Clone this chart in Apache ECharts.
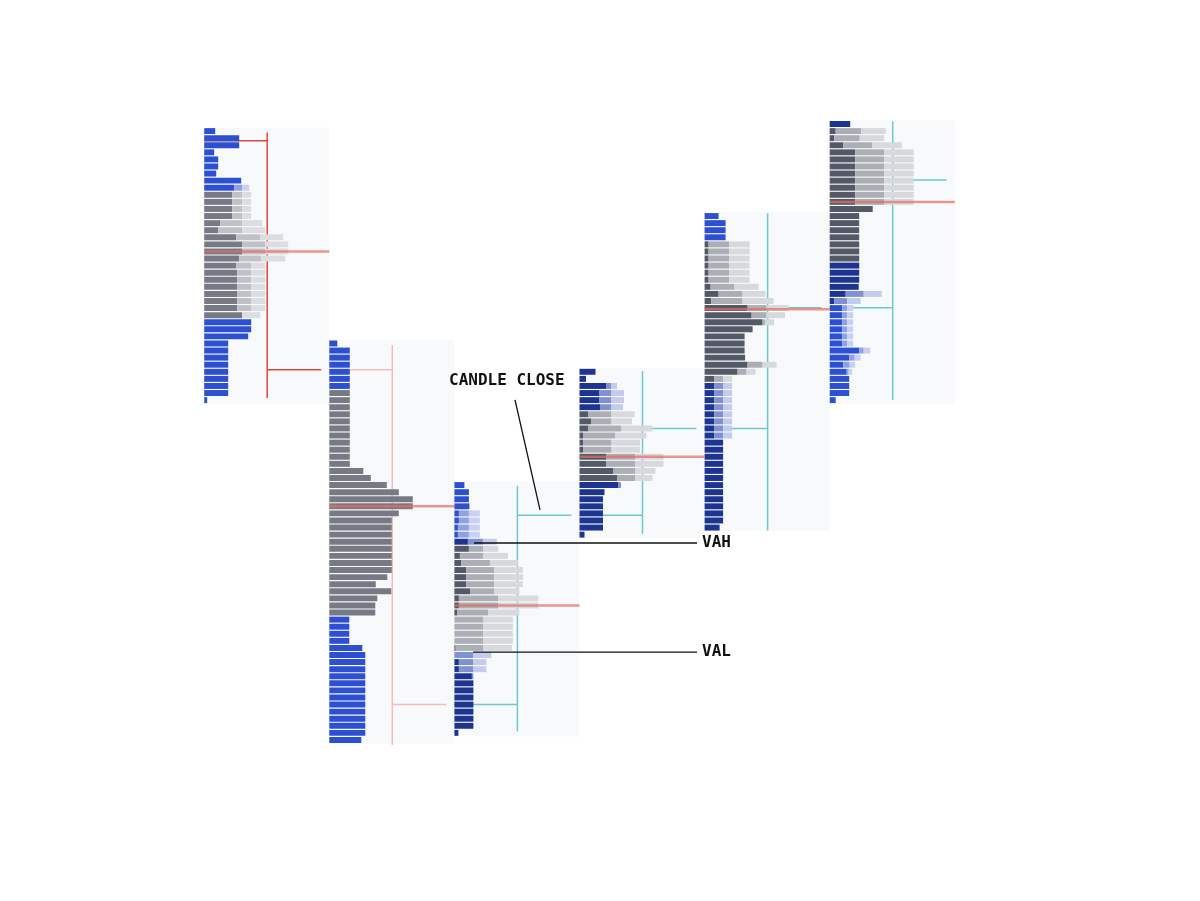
<!DOCTYPE html>
<html><head><meta charset="utf-8">
<script src="https://cdn.jsdelivr.net/npm/echarts@6/dist/echarts.min.js"></script>
<style>html,body{margin:0;padding:0;background:#fff}#c{width:1200px;height:901px}</style>
</head><body><div id="c"></div>
<script>
// Price levels are row indices (0 = highest level, growing downward).
// Each profile row: [darkEnd, midEnd, lightEnd, kind]  (kind: b=blue, n=navy, g=gray, d=dark gray)
const p1Top = 1;
const p1Rows = [
  [11,0,0,'b'],[35,0,0,'b'],[35,0,0,'b'],[10,0,0,'b'],[14,0,0,'b'],[14,0,0,'b'],[12,0,0,'b'],[37,0,0,'b'],[30,38,45,'b'],
  [28,38,47,'g'],[28,38,47,'g'],[28,38,47,'g'],[28,38,47,'g'],[16,38,58,'g'],[14,38,61,'g'],[32,56,79,'g'],[38,61,84,'g'],
  [38,61,84,'g'],[35,57,81,'g'],[32,47,61,'g'],[33,47,61,'g'],[33,47,61,'g'],[33,47,61,'g'],[33,47,61,'g'],[33,47,61,'g'],
  [33,47,61,'g'],[38,38,56,'g'],
  [47,0,0,'b'],[47,0,0,'b'],[44,0,0,'b'],[24,0,0,'b'],[24,0,0,'b'],[24,0,0,'b'],[24,0,0,'b'],[24,0,0,'b'],[24,0,0,'b'],
  [24,0,0,'b'],[24,0,0,'b'],[3,0,0,'b']
];
const p2Top = 31;
const p2Rows = [
  [8,0,0,'b'],[20.5,0,0,'b'],[20.5,0,0,'b'],[20.5,0,0,'b'],[20.5,0,0,'b'],[20.5,0,0,'b'],[20.5,0,0,'b'],
  [20.5,0,0,'g'],[20.5,0,0,'g'],[20.5,0,0,'g'],[20.5,0,0,'g'],[20.5,0,0,'g'],[20.5,0,0,'g'],[20.5,0,0,'g'],[20.5,0,0,'g'],
  [20.5,0,0,'g'],[20.5,0,0,'g'],[20.5,0,0,'g'],[34,0,0,'g'],[41.5,0,0,'g'],[57.5,0,0,'g'],[69.5,0,0,'g'],[83.5,0,0,'g'],
  [83.5,0,0,'g'],[69.5,0,0,'g'],[62.5,0,0,'g'],[62.5,0,0,'g'],[62.5,0,0,'g'],[62.5,0,0,'g'],[62.5,0,0,'g'],[62.5,0,0,'g'],
  [62.5,0,0,'g'],[62.5,0,0,'g'],[58,0,0,'g'],[46.5,0,0,'g'],[62,0,0,'g'],[48,0,0,'g'],[46,0,0,'g'],[46,0,0,'g'],
  [20,0,0,'b'],[20,0,0,'b'],[20,0,0,'b'],[20,0,0,'b'],[33,0,0,'b'],[36,0,0,'b'],[36,0,0,'b'],[36,0,0,'b'],[36,0,0,'b'],
  [36,0,0,'b'],[36,0,0,'b'],[36,0,0,'b'],[36,0,0,'b'],[36,0,0,'b'],[36,0,0,'b'],[36,0,0,'b'],[36,0,0,'b'],[32,0,0,'b']
];
const p3Top = 51;
const p3Rows = [
  [10,0,0,'b'],[14.5,0,0,'b'],[14.5,0,0,'b'],[15,0,0,'b'],[4.5,14.5,25.5,'b'],[4.5,14.5,25.5,'b'],[3.5,14.5,25.5,'b'],
  [3.5,14.5,25.5,'b'],[13.5,28.5,42.5,'n'],[14.5,29,44,'d'],[5.5,29,53.5,'d'],[7,35.5,63.5,'d'],[12,40,68.5,'d'],
  [12,40,68.5,'d'],[12,40,68.5,'d'],[16,40,65,'d'],[4.5,44,84,'d'],[4.5,44,84,'d'],[3,34,65,'d'],[0,29,58.5,'d'],
  [0,29,58.5,'d'],[0,29,58.5,'d'],[0,29,58.5,'d'],[1.3,29,57.5,'d'],[0,19,37,'n'],[4.5,19,32,'n'],[4.5,19,32,'n'],
  [17.5,19,19,'n'],[19,0,0,'n'],[19,0,0,'n'],[19,0,0,'n'],[19,0,0,'n'],[19,0,0,'n'],[19,0,0,'n'],[19,0,0,'n'],[4,0,0,'n']
];
const p4Top = 35;
const p4Rows = [
  [16,0,0,'n'],[6.5,0,0,'n'],[26.5,32,37.5,'n'],[20,32,44.5,'n'],[20,32,44.5,'n'],[21,32,43.5,'n'],[9,32,55,'d'],
  [11.5,32,52.5,'d'],[9,41.5,73,'d'],[3.5,35.5,67,'d'],[3.5,32,60.5,'d'],[3.5,32,60.5,'d'],[27,55.5,84,'d'],
  [26.5,55.5,84,'d'],[34,55.5,76,'d'],[37.5,55.5,73,'d'],[39,41.5,41.5,'n'],[25,0,0,'n'],[23.5,0,0,'n'],[23.5,0,0,'n'],
  [23.5,0,0,'n'],[23.5,0,0,'n'],[23.5,0,0,'n'],[5,0,0,'n']
];
const p5Top = 13;
const p5Rows = [
  [14,0,0,'b'],[21,0,0,'b'],[21,0,0,'b'],[21,0,0,'b'],[4,24.5,45,'d'],[4,24.5,45,'d'],[4,24.5,45,'d'],[4,24.5,45,'d'],
  [4,24.5,45,'d'],[4,24.5,45,'d'],[6,30,54,'d'],[14,38,61,'d'],[6.5,38,69,'d'],[43,62,84,'d'],[47,62,80.5,'d'],
  [58,60.5,69.5,'d'],[48,0,0,'d'],[40,0,0,'d'],[40,0,0,'d'],[40,0,0,'d'],[40.5,0,0,'d'],[43,58,72,'d'],[33,42,51,'d'],
  [9.5,18.5,27.5,'d'],[9.5,18.5,27.5,'n'],[9.5,18.5,27.5,'n'],[9.5,18.5,27.5,'n'],[9.5,18.5,27.5,'n'],[9.5,18.5,27.5,'n'],
  [9.5,18.5,27.5,'n'],[9.5,18.5,27.5,'n'],[9.5,18.5,27.5,'n'],[18.5,0,0,'n'],[18.5,0,0,'n'],[18.5,0,0,'n'],[18.5,0,0,'n'],
  [18.5,0,0,'n'],[18.5,0,0,'n'],[18.5,0,0,'n'],[18.5,0,0,'n'],[18.5,0,0,'n'],[18.5,0,0,'n'],[18.5,0,0,'n'],[18.5,0,0,'n'],
  [15,0,0,'n']
];
const p6Top = 0;
const p6Rows = [
  [20.5,0,0,'n'],[6,31.5,56,'d'],[4.5,30,54.5,'d'],[13.5,42.5,72,'d'],[25.5,54.5,84,'d'],[25.5,54.5,84,'d'],
  [25.5,54.5,84,'d'],[25.5,54.5,84,'d'],[25.5,54.5,84,'d'],[25.5,54.5,84,'d'],[25.5,54.5,84,'d'],[25.5,54.5,84,'d'],
  [43,0,0,'d'],[29.5,0,0,'d'],[29.5,0,0,'d'],[29.5,0,0,'d'],[29.5,0,0,'d'],[29.5,0,0,'d'],[29.5,0,0,'d'],[29.5,0,0,'d'],
  [29.5,0,0,'n'],[29.5,0,0,'n'],[29.5,0,0,'n'],[29,0,0,'n'],[16,34,52,'n'],[4.5,17.5,31,'n'],[12.5,17.5,23.5,'b'],
  [12.5,17.5,23.5,'b'],[12.5,17.5,23.5,'b'],[12.5,17.5,23.5,'b'],[12.5,17.5,23.5,'b'],[12.5,17.5,23.5,'b'],
  [29.5,34,40.5,'b'],[19.5,25,31,'b'],[13.5,20,25.5,'b'],[17,19,22.5,'b'],[19.5,0,0,'b'],[19.5,0,0,'b'],[19.5,0,0,'b'],
  [6,0,0,'b']
];
const profileTops = [p1Top, p2Top, p3Top, p4Top, p5Top, p6Top];
const profileRows = [p1Rows, p2Rows, p3Rows, p4Rows, p5Rows, p6Rows];

// Candles (OHLC in level units)
const candleOpen  = [2.35, 34.7, 82.0, 55.25, 43.0, 25.95];
const candleClose = [34.7, 82.0, 55.25, 43.0, 25.95, 7.9];
const candleHigh  = [1.2, 31.2, 51.1, 34.9, 12.6, -0.4];
const candleLow   = [38.7, 87.7, 85.8, 57.9, 57.4, 39.0];
const candleTone  = ['bear', 'bearFaded', 'bull', 'bull', 'bull', 'bull'];
const pocLevel    = [18, 54, 68, 47, 26.15, 11];

// Annotations
const annotTexts  = ['CANDLE CLOSE', 'VAH', 'VAL'];
const annotLevels = [36.3, 59.18, 74.58];

// ---------- layout & styles ----------
const COL0 = 204.2, COLW = 125.1, MIDX = 63, RTICK = 117;
const PITCH = 7.08, Y0 = 124, H = 901;
const YMIN = -Y0 / PITCH, YMAX = YMIN + H / PITCH;
const palette = {
  b: ['#2d4fd1', '#8fa1e4', '#c8d1f3'],
  n: ['#1d3490', '#8191d0', '#c4cced'],
  g: ['#777a85', '#bfc1c6', '#dcdde1'],
  d: ['#545968', '#abaeb5', '#d7d9dd']
};
const toneColor = { bear: '#e2463a', bearFaded: '#f2bdb8', bull: '#6cc9d1' };

const panelData = [], barData = [], candleData = [], pocData = [];
profileRows.forEach((rows, i) => {
  const left = COL0 + i * COLW;
  const top = profileTops[i];
  panelData.push([left, left + COLW, top - 0.5, top + rows.length - 0.5]);
  rows.forEach((r, k) => {
    const lvl = top + k;
    let prev = 0;
    for (let s = 0; s < 3; s++) {
      const end = r[s];
      if (end > prev) {
        barData.push({ value: [left + prev, left + end, lvl], itemStyle: { color: palette[r[3]][s] } });
        prev = end;
      }
    }
  });
  const c = toneColor[candleTone[i]];
  candleData.push({ value: [left, left + MIDX, left + RTICK, candleHigh[i], candleLow[i], candleOpen[i], candleClose[i]], itemStyle: { color: c } });
  pocData.push([left, left + COLW, pocLevel[i]]);
});

const chart = echarts.init(document.getElementById('c'), null, { renderer: 'canvas' });
chart.setOption({
  animation: false,
  backgroundColor: '#ffffff',
  grid: { left: 0, right: 0, top: 0, bottom: 0 },
  xAxis: { type: 'value', min: 0, max: 1200, show: false },
  yAxis: { type: 'value', inverse: true, min: YMIN, max: YMAX, show: false },
  series: [
    {
      type: 'custom', name: 'panel', clip: false, data: panelData,
      encode: { x: [0, 1], y: [2, 3] },
      renderItem: (p, api) => {
        const a = api.coord([api.value(0), api.value(2)]);
        const b = api.coord([api.value(1), api.value(3)]);
        return { type: 'rect', shape: { x: a[0], y: a[1], width: b[0] - a[0], height: b[1] - a[1] }, style: { fill: '#f8f9fb' } };
      }
    },
    {
      type: 'custom', name: 'candle', clip: false, data: candleData,
      encode: { x: [0, 1, 2], y: [3, 4, 5, 6] },
      renderItem: (p, api) => {
        const col = api.visual('color');
        const hi = api.coord([api.value(1), api.value(3)]);
        const lo = api.coord([api.value(1), api.value(4)]);
        const o0 = api.coord([api.value(0), api.value(5)]);
        const c1 = api.coord([api.value(2), api.value(6)]);
        const st = { stroke: col, lineWidth: 1.5 };
        return { type: 'group', children: [
          { type: 'line', shape: { x1: hi[0], y1: hi[1], x2: lo[0], y2: lo[1] }, style: st },
          { type: 'line', shape: { x1: o0[0], y1: o0[1], x2: hi[0], y2: o0[1] }, style: st },
          { type: 'line', shape: { x1: hi[0], y1: c1[1], x2: c1[0], y2: c1[1] }, style: st }
        ] };
      }
    },
    {
      type: 'custom', name: 'volume', clip: false, data: barData,
      encode: { x: [0, 1], y: 2 },
      renderItem: (p, api) => {
        const a = api.coord([api.value(0), api.value(2)]);
        const b = api.coord([api.value(1), api.value(2)]);
        const h = api.size([0, 1])[1] * 0.84;
        return { type: 'rect', shape: { x: a[0], y: a[1] - h / 2, width: b[0] - a[0], height: h }, style: { fill: api.visual('color') } };
      }
    },
    {
      type: 'custom', name: 'poc', clip: false, data: pocData,
      encode: { x: [0, 1], y: 2 },
      renderItem: (p, api) => {
        const a = api.coord([api.value(0), api.value(2)]);
        const b = api.coord([api.value(1), api.value(2)]);
        return { type: 'line', shape: { x1: a[0], y1: a[1], x2: b[0], y2: b[1] }, style: { stroke: 'rgba(228,110,98,0.72)', lineWidth: 2.5 } };
      }
    },
    {
      type: 'custom', name: 'annotations', clip: false,
      data: [[0]],
      renderItem: (p, api) => {
        const font = 'bold 16px "DejaVu Sans Mono", "Liberation Mono", monospace';
        const t0 = api.coord([449, annotLevels[0]]);
        const vah = api.coord([474, annotLevels[1]]);
        const vahE = api.coord([697, annotLevels[1]]);
        const val = api.coord([473, annotLevels[2]]);
        const valE = api.coord([697, annotLevels[2]]);
        const pa = api.coord([515, 38.98]);
        const pb = api.coord([540, 54.5]);
        const ls = { stroke: '#111', lineWidth: 1.3 };
        return { type: 'group', children: [
          { type: 'line', shape: { x1: pa[0], y1: pa[1], x2: pb[0], y2: pb[1] }, style: ls },
          { type: 'line', shape: { x1: vah[0], y1: vah[1], x2: vahE[0], y2: vahE[1] }, style: ls },
          { type: 'line', shape: { x1: val[0], y1: val[1], x2: valE[0], y2: valE[1] }, style: ls },
          { type: 'text', style: { x: t0[0], y: t0[1], text: annotTexts[0], font: font, fill: '#111', textVerticalAlign: 'middle', verticalAlign: 'middle' } },
          { type: 'text', style: { x: vahE[0] + 5, y: vahE[1], text: annotTexts[1], font: font, fill: '#111', textVerticalAlign: 'middle', verticalAlign: 'middle' } },
          { type: 'text', style: { x: valE[0] + 5, y: valE[1], text: annotTexts[2], font: font, fill: '#111', textVerticalAlign: 'middle', verticalAlign: 'middle' } }
        ] };
      }
    }
  ]
});
</script>
</body></html>
